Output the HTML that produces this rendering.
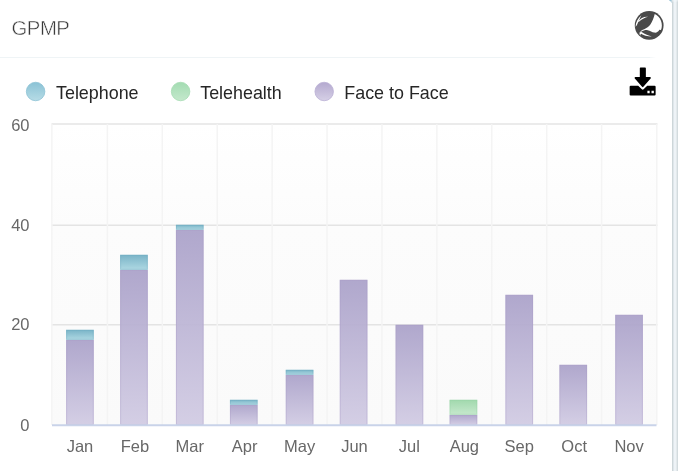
<!DOCTYPE html>
<html><head><meta charset="utf-8"><title>GPMP</title>
<style>
html,body{margin:0;padding:0;background:#fff;}
body{width:678px;height:471px;position:relative;overflow:hidden;font-family:"Liberation Sans",sans-serif;}
.ax{font-family:"Liberation Sans",sans-serif;font-size:16.5px;fill:#686868;}
.lg{font-family:"Liberation Sans",sans-serif;font-size:17.9px;fill:#262626;}
.title{position:absolute;left:11.5px;top:16.8px;font-size:20.3px;line-height:23px;color:#383838;letter-spacing:-0.45px;-webkit-text-stroke:0.5px #fff;}
.sep{position:absolute;left:0;top:56.8px;width:657px;height:1.3px;background:linear-gradient(to right,#eff4f6 0,#eff4f6 649px,rgba(239,244,246,0) 656px);}
.px{position:absolute;width:1px;height:1px;}
#wrap{position:absolute;left:0;top:0;width:678px;height:471px;will-change:transform;}
.strip{position:absolute;top:0;height:471px;width:1px;}
.dl{position:absolute;left:624px;top:62px;width:38px;height:38px;}
.logo{position:absolute;left:633px;top:10px;width:32px;height:32px;}
</style></head><body><div id="wrap">
<div class="title">GPMP</div>
<div class="sep"></div>
<svg width="678" height="471" viewBox="0 0 678 471" style="position:absolute;left:0;top:0">
<defs>
<linearGradient id="gp" x1="0" y1="0" x2="0" y2="1"><stop offset="0" stop-color="#aaa1c9"/><stop offset="1" stop-color="#d1cbe3"/></linearGradient>
<linearGradient id="gt" x1="0" y1="0" x2="0" y2="1"><stop offset="0" stop-color="#6faec3"/><stop offset="1" stop-color="#a9d6e1"/></linearGradient>
<linearGradient id="gg" x1="0" y1="0" x2="0" y2="1"><stop offset="0" stop-color="#9ad6a7"/><stop offset="1" stop-color="#c2e7ca"/></linearGradient>
<linearGradient id="lp" x1="0" y1="0" x2="0" y2="1"><stop offset="0" stop-color="#b4a9cf"/><stop offset="1" stop-color="#d6d0e6"/></linearGradient>
<linearGradient id="lt" x1="0" y1="0" x2="0" y2="1"><stop offset="0" stop-color="#8ac2d5"/><stop offset="1" stop-color="#b7dce6"/></linearGradient>
<linearGradient id="lg" x1="0" y1="0" x2="0" y2="1"><stop offset="0" stop-color="#a3dcb2"/><stop offset="1" stop-color="#c4e8cc"/></linearGradient>
<linearGradient id="bg" x1="0" y1="0" x2="0" y2="1"><stop offset="0" stop-color="#ffffff"/><stop offset="0.34" stop-color="#fcfcfc"/><stop offset="1" stop-color="#fafafa"/></linearGradient>
</defs>
<rect x="52.5" y="124.0" width="604.0" height="301.0" fill="url(#bg)"/>
<line x1="51.5" y1="324.70" x2="657.5" y2="324.70" stroke="#e4e4e4" stroke-width="1.6"/>
<line x1="51.5" y1="225.30" x2="657.5" y2="225.30" stroke="#e4e4e4" stroke-width="1.6"/>
<line x1="51.5" y1="124.00" x2="657.5" y2="124.00" stroke="#e4e4e4" stroke-width="1.6"/>
<line x1="51.90" y1="124.0" x2="51.90" y2="425.0" stroke="#f4f4f4" stroke-width="1.5"/>
<line x1="107.41" y1="124.0" x2="107.41" y2="425.0" stroke="#f4f4f4" stroke-width="1.5"/>
<line x1="162.32" y1="124.0" x2="162.32" y2="425.0" stroke="#f4f4f4" stroke-width="1.5"/>
<line x1="217.23" y1="124.0" x2="217.23" y2="425.0" stroke="#f4f4f4" stroke-width="1.5"/>
<line x1="272.14" y1="124.0" x2="272.14" y2="425.0" stroke="#f4f4f4" stroke-width="1.5"/>
<line x1="327.05" y1="124.0" x2="327.05" y2="425.0" stroke="#f4f4f4" stroke-width="1.5"/>
<line x1="381.95" y1="124.0" x2="381.95" y2="425.0" stroke="#f4f4f4" stroke-width="1.5"/>
<line x1="436.86" y1="124.0" x2="436.86" y2="425.0" stroke="#f4f4f4" stroke-width="1.5"/>
<line x1="491.77" y1="124.0" x2="491.77" y2="425.0" stroke="#f4f4f4" stroke-width="1.5"/>
<line x1="546.68" y1="124.0" x2="546.68" y2="425.0" stroke="#f4f4f4" stroke-width="1.5"/>
<line x1="601.59" y1="124.0" x2="601.59" y2="425.0" stroke="#f4f4f4" stroke-width="1.5"/>
<line x1="656.80" y1="124.0" x2="656.80" y2="425.0" stroke="#f4f4f4" stroke-width="1.5"/>
<rect x="66.10" y="339.80" width="27.7" height="85.20" fill="url(#gp)" fill-opacity="0.93"/>
<rect x="66.60" y="340.30" width="26.7" height="84.20" fill="none" stroke="#a99cc6" stroke-opacity="0.35" stroke-width="1"/>
<rect x="66.10" y="329.80" width="27.7" height="10.00" fill="url(#gt)" fill-opacity="0.93"/>
<rect x="66.60" y="330.30" width="26.7" height="9.00" fill="none" stroke="#69a9bf" stroke-opacity="0.35" stroke-width="1"/>
<rect x="120.11" y="269.80" width="27.7" height="155.20" fill="url(#gp)" fill-opacity="0.93"/>
<rect x="120.61" y="270.30" width="26.7" height="154.20" fill="none" stroke="#a99cc6" stroke-opacity="0.35" stroke-width="1"/>
<rect x="120.11" y="254.80" width="27.7" height="15.00" fill="url(#gt)" fill-opacity="0.93"/>
<rect x="120.61" y="255.30" width="26.7" height="14.00" fill="none" stroke="#69a9bf" stroke-opacity="0.35" stroke-width="1"/>
<rect x="175.92" y="229.80" width="27.7" height="195.20" fill="url(#gp)" fill-opacity="0.93"/>
<rect x="176.42" y="230.30" width="26.7" height="194.20" fill="none" stroke="#a99cc6" stroke-opacity="0.35" stroke-width="1"/>
<rect x="175.92" y="224.80" width="27.7" height="5.00" fill="url(#gt)" fill-opacity="0.93"/>
<rect x="176.42" y="225.30" width="26.7" height="4.00" fill="none" stroke="#69a9bf" stroke-opacity="0.35" stroke-width="1"/>
<rect x="229.93" y="404.80" width="27.7" height="20.20" fill="url(#gp)" fill-opacity="0.93"/>
<rect x="230.43" y="405.30" width="26.7" height="19.20" fill="none" stroke="#a99cc6" stroke-opacity="0.35" stroke-width="1"/>
<rect x="229.93" y="399.80" width="27.7" height="5.00" fill="url(#gt)" fill-opacity="0.93"/>
<rect x="230.43" y="400.30" width="26.7" height="4.00" fill="none" stroke="#69a9bf" stroke-opacity="0.35" stroke-width="1"/>
<rect x="285.74" y="374.80" width="27.7" height="50.20" fill="url(#gp)" fill-opacity="0.93"/>
<rect x="286.24" y="375.30" width="26.7" height="49.20" fill="none" stroke="#a99cc6" stroke-opacity="0.35" stroke-width="1"/>
<rect x="285.74" y="369.80" width="27.7" height="5.00" fill="url(#gt)" fill-opacity="0.93"/>
<rect x="286.24" y="370.30" width="26.7" height="4.00" fill="none" stroke="#69a9bf" stroke-opacity="0.35" stroke-width="1"/>
<rect x="339.75" y="279.80" width="27.7" height="145.20" fill="url(#gp)" fill-opacity="0.93"/>
<rect x="340.25" y="280.30" width="26.7" height="144.20" fill="none" stroke="#a99cc6" stroke-opacity="0.35" stroke-width="1"/>
<rect x="395.56" y="324.80" width="27.7" height="100.20" fill="url(#gp)" fill-opacity="0.93"/>
<rect x="396.06" y="325.30" width="26.7" height="99.20" fill="none" stroke="#a99cc6" stroke-opacity="0.35" stroke-width="1"/>
<rect x="449.57" y="414.80" width="27.7" height="10.20" fill="url(#gp)" fill-opacity="0.93"/>
<rect x="450.07" y="415.30" width="26.7" height="9.20" fill="none" stroke="#a99cc6" stroke-opacity="0.35" stroke-width="1"/>
<rect x="449.57" y="399.80" width="27.7" height="15.00" fill="url(#gg)" fill-opacity="0.93"/>
<rect x="450.07" y="400.30" width="26.7" height="14.00" fill="none" stroke="#93d1a2" stroke-opacity="0.35" stroke-width="1"/>
<rect x="505.38" y="294.80" width="27.7" height="130.20" fill="url(#gp)" fill-opacity="0.93"/>
<rect x="505.88" y="295.30" width="26.7" height="129.20" fill="none" stroke="#a99cc6" stroke-opacity="0.35" stroke-width="1"/>
<rect x="559.39" y="364.80" width="27.7" height="60.20" fill="url(#gp)" fill-opacity="0.93"/>
<rect x="559.89" y="365.30" width="26.7" height="59.20" fill="none" stroke="#a99cc6" stroke-opacity="0.35" stroke-width="1"/>
<rect x="615.20" y="314.80" width="27.7" height="110.20" fill="url(#gp)" fill-opacity="0.93"/>
<rect x="615.70" y="315.30" width="26.7" height="109.20" fill="none" stroke="#a99cc6" stroke-opacity="0.35" stroke-width="1"/>
<line x1="52.0" y1="425.2" x2="656.5" y2="425.2" stroke="#c9d3e9" stroke-width="2"/>
<text x="79.95" y="452.3" text-anchor="middle" class="ax">Jan</text>
<text x="134.86" y="452.3" text-anchor="middle" class="ax">Feb</text>
<text x="189.77" y="452.3" text-anchor="middle" class="ax">Mar</text>
<text x="244.68" y="452.3" text-anchor="middle" class="ax">Apr</text>
<text x="299.59" y="452.3" text-anchor="middle" class="ax">May</text>
<text x="354.50" y="452.3" text-anchor="middle" class="ax">Jun</text>
<text x="409.41" y="452.3" text-anchor="middle" class="ax">Jul</text>
<text x="464.32" y="452.3" text-anchor="middle" class="ax">Aug</text>
<text x="519.23" y="452.3" text-anchor="middle" class="ax">Sep</text>
<text x="574.14" y="452.3" text-anchor="middle" class="ax">Oct</text>
<text x="629.05" y="452.3" text-anchor="middle" class="ax">Nov</text>
<text x="29.5" y="431.40" text-anchor="end" class="ax">0</text>
<text x="29.5" y="330.40" text-anchor="end" class="ax">20</text>
<text x="29.5" y="231.40" text-anchor="end" class="ax">40</text>
<text x="29.5" y="131.30" text-anchor="end" class="ax">60</text>
<circle cx="35.6" cy="91.5" r="9.25" fill="url(#lt)" stroke="#8cc2d4" stroke-opacity="0.8" stroke-width="1"/>
<text x="56" y="98.6" class="lg">Telephone</text>
<circle cx="180.6" cy="91.5" r="9.25" fill="url(#lg)" stroke="#a6dcb3" stroke-opacity="0.8" stroke-width="1"/>
<text x="200.2" y="98.6" class="lg">Telehealth</text>
<circle cx="324.2" cy="91.5" r="9.25" fill="url(#lp)" stroke="#b9afd4" stroke-opacity="0.8" stroke-width="1"/>
<text x="344.3" y="98.6" class="lg">Face to Face</text>
</svg>
<svg class="dl" viewBox="0 0 471 471">
<path fill="#000" d="M205 68 H262 a9 9 0 0 1 9 9 V186 H322 a10 10 0 0 1 8 17 L240 308 a11 11 0 0 1 -16 0 L134 203 a10 10 0 0 1 8 -17 H196 V77 a9 9 0 0 1 9 -9 Z"/>
<path fill="#000" d="M83 295 H176 L221 339 a16 16 0 0 0 22 0 L288 295 H379 a13 13 0 0 1 13 13 V402 a13 13 0 0 1 -13 13 H83 a13 13 0 0 1 -13 -13 V308 a13 13 0 0 1 13 -13 Z M290 357 h28 v31 h-28 Z M341 357 h29 v31 h-29 Z" fill-rule="evenodd"/>
</svg>
<svg class="logo" viewBox="0 0 471 471">
<circle cx="238" cy="227" r="212" fill="#4a4a4a"/>
<path fill="#fff" d="M320 60 A186 186 0 0 1 412 294 L388 292 C374 322 347 338 312 333 C282 326 252 303 217 297 C197 294 177 295 162 300 C142 303 120 314 102 338 C108 304 138 288 165 282 C200 269 233 243 256 213 C283 178 305 118 320 60 Z"/>
<path fill="#fff" d="M98 326 C94 346 97 362 107 377 C108 362 111 352 119 348 C150 368 210 389 280 391 C232 372 172 352 127 322 Z"/>
<path fill="#fff" d="M38 248 C40 180 72 118 124 76 C104 114 82 160 68 200 C60 222 48 238 38 248 Z"/>
<path fill="#fff" d="M70 176 C108 124 160 96 221 101 C172 114 127 139 88 174 Z"/>
</svg>
<div class="strip" style="left:672px;background:#cdd6d9"></div>
<div class="strip" style="left:673px;background:#dfe6ea"></div>
<div class="strip" style="left:674px;background:#eef3f7"></div>
<div class="strip" style="left:675px;background:#eef3f6"></div>
<div class="strip" style="left:676px;background:#e3e9ec"></div>
<div class="strip" style="left:677px;background:#d3dbde"></div>
<div class="px" style="left:669px;top:0px;background:#c0dae6"></div><div class="px" style="left:670px;top:0px;background:#9dc5d8"></div><div class="px" style="left:671px;top:0px;background:#b9d3df"></div><div class="px" style="left:670px;top:1px;background:#dceaf1"></div><div class="px" style="left:671px;top:1px;background:#c4dae5"></div><div class="px" style="left:671px;top:2px;background:#dbe8ee"></div><div class="px" style="left:672px;top:0px;background:#dde6ea"></div><div class="px" style="left:673px;top:0px;background:#eaf0f3"></div><div class="px" style="left:674px;top:0px;background:#f1f6f9"></div><div class="px" style="left:675px;top:0px;background:#f1f6f9"></div><div class="px" style="left:676px;top:0px;background:#ecf1f4"></div><div class="px" style="left:677px;top:0px;background:#e2e9ec"></div><div class="px" style="left:672px;top:1px;background:#d6dfe3"></div><div class="px" style="left:673px;top:1px;background:#e6ecf0"></div><div class="px" style="left:674px;top:1px;background:#f0f5f8"></div><div class="px" style="left:675px;top:1px;background:#f0f5f8"></div><div class="px" style="left:676px;top:1px;background:#e8eef1"></div><div class="px" style="left:677px;top:1px;background:#dae1e4"></div>
</div></body></html>
